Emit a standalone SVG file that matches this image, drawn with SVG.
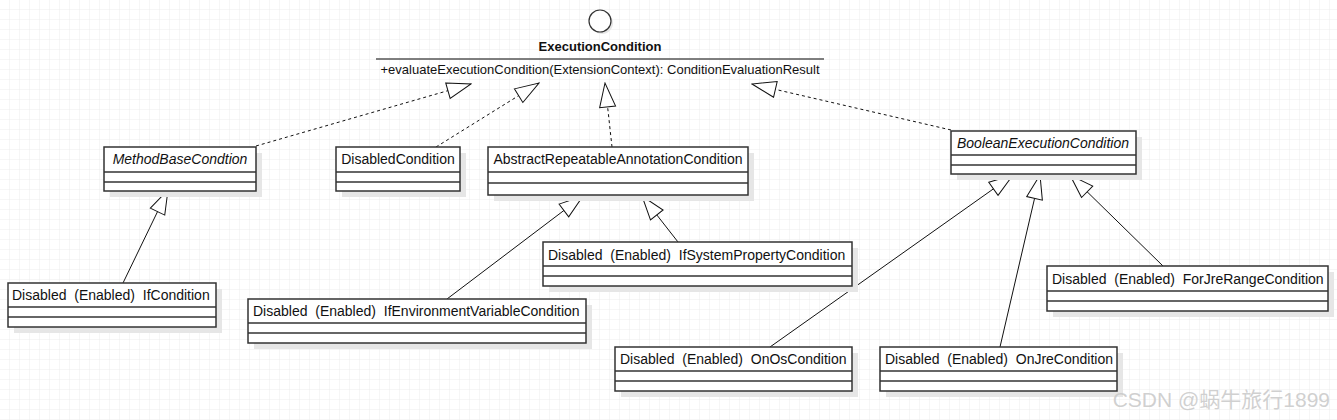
<svg xmlns="http://www.w3.org/2000/svg" width="1337" height="420" viewBox="0 0 1337 420">
<style>
.b{fill:#fff;stroke:#333;stroke-width:1.5}
.s{fill:#e6e6e6}
.d{stroke:#333;stroke-width:1.5}
.t{font-family:"Liberation Sans",Arial,sans-serif;font-size:14px;fill:#111;white-space:pre}
.h{font-size:13px}
.i{font-style:italic}
.c{stroke:#111;stroke-width:1;fill:none}
.dash{stroke-dasharray:3,3}
</style>
<defs>
<pattern id="g" width="10" height="10" patternUnits="userSpaceOnUse"><path d="M10 0V10H0" fill="none" stroke="#ececec" stroke-width="1"/></pattern>
<marker id="tri" viewBox="0 0 26 22" refX="25" refY="11" markerWidth="26" markerHeight="22" markerUnits="userSpaceOnUse" orient="auto"><path d="M1 3L25 11L1 19Z" fill="#fff" stroke="#111" stroke-width="1"/></marker>
</defs>
<rect width="1337" height="420" fill="#fff"/>
<rect width="1337" height="420" fill="url(#g)"/>
<g id="connectors">
<path class="c dash" d="M256 146L471 84" marker-end="url(#tri)"/>
<path class="c dash" d="M436 147L539 83" marker-end="url(#tri)"/>
<path class="c dash" d="M612 147L605 83" marker-end="url(#tri)"/>
<path class="c dash" d="M951 130L752 84" marker-end="url(#tri)"/>
<path class="c" d="M123 283L168 190" marker-end="url(#tri)"/>
<path class="c" d="M447 299L583 196" marker-end="url(#tri)"/>
<path class="c" d="M678 242L642 196" marker-end="url(#tri)"/>
<path class="c" d="M770 347L1013 175" marker-end="url(#tri)"/>
<path class="c" d="M1000 347L1040 175" marker-end="url(#tri)"/>
<path class="c" d="M1163 266L1070 175" marker-end="url(#tri)"/>
</g>
<g id="ExecutionCondition">
<circle cx="602" cy="23" r="11" fill="#e6e6e6"/>
<circle cx="600" cy="21" r="11" fill="#fff" stroke="#333" stroke-width="1.2"/>
<text class="t h" x="600" y="51" text-anchor="middle" font-weight="bold">ExecutionCondition</text>
<line x1="376" y1="59" x2="824" y2="59" stroke="#555" stroke-width="1.5"/>
<text class="t h" x="600" y="74" text-anchor="middle">+evaluateExecutionCondition(ExtensionContext): ConditionEvaluationResult</text>
</g>
<g id="MethodBaseCondtion">
<rect class="s" x="110" y="153" width="152" height="44"/>
<rect class="b" x="104" y="147" width="152" height="44"/>
<line class="d" x1="104" y1="172" x2="256" y2="172"/><line class="d" x1="104" y1="182" x2="256" y2="182"/>
<text class="t i" x="180" y="164" text-anchor="middle">MethodBaseCondtion</text>
</g>
<g id="DisabledCondition">
<rect class="s" x="342" y="153" width="124" height="44"/>
<rect class="b" x="336" y="147" width="124" height="44"/>
<line class="d" x1="336" y1="172" x2="460" y2="172"/><line class="d" x1="336" y1="182" x2="460" y2="182"/>
<text class="t" x="398" y="164" text-anchor="middle">DisabledCondition</text>
</g>
<g id="AbstractRepeatableAnnotationCondition">
<rect class="s" x="494" y="153" width="260" height="48"/>
<rect class="b" x="488" y="147" width="260" height="48"/>
<line class="d" x1="488" y1="172" x2="748" y2="172"/><line class="d" x1="488" y1="183" x2="748" y2="183"/>
<text class="t" x="618" y="164" text-anchor="middle">AbstractRepeatableAnnotationCondition</text>
</g>
<g id="BooleanExecutionCondition">
<rect class="s" x="957" y="137" width="185" height="43"/>
<rect class="b" x="951" y="131" width="185" height="43"/>
<line class="d" x1="951" y1="155" x2="1136" y2="155"/><line class="d" x1="951" y1="165" x2="1136" y2="165"/>
<text class="t i" x="1043" y="148" text-anchor="middle">BooleanExecutionCondition</text>
</g>
<g id="IfCondition">
<rect class="s" x="14" y="289" width="208" height="44"/>
<rect class="b" x="8" y="283" width="208" height="44"/>
<line class="d" x1="8" y1="307" x2="216" y2="307"/><line class="d" x1="8" y1="317" x2="216" y2="317"/>
<text class="t" x="12" y="300" xml:space="preserve">Disabled  (Enabled)  IfCondition</text>
</g>
<g id="IfEnvironmentVariableCondition">
<rect class="s" x="254" y="305" width="338" height="44"/>
<rect class="b" x="248" y="299" width="338" height="44"/>
<line class="d" x1="248" y1="323" x2="586" y2="323"/><line class="d" x1="248" y1="333" x2="586" y2="333"/>
<text class="t" x="253" y="316" xml:space="preserve">Disabled  (Enabled)  IfEnvironmentVariableCondition</text>
</g>
<g id="IfSystemPropertyCondition">
<rect class="s" x="549" y="248" width="309" height="44"/>
<rect class="b" x="543" y="242" width="309" height="44"/>
<line class="d" x1="543" y1="266" x2="852" y2="266"/><line class="d" x1="543" y1="276" x2="852" y2="276"/>
<text class="t" x="548" y="260" xml:space="preserve">Disabled  (Enabled)  IfSystemPropertyCondition</text>
</g>
<g id="ForJreRangeCondition">
<rect class="s" x="1053" y="272" width="281" height="45"/>
<rect class="b" x="1047" y="266" width="281" height="45"/>
<line class="d" x1="1047" y1="291" x2="1328" y2="291"/><line class="d" x1="1047" y1="301" x2="1328" y2="301"/>
<text class="t" x="1052" y="284" xml:space="preserve">Disabled  (Enabled)  ForJreRangeCondition</text>
</g>
<g id="OnOsCondition">
<rect class="s" x="621" y="353" width="237" height="44"/>
<rect class="b" x="615" y="347" width="237" height="44"/>
<line class="d" x1="615" y1="371" x2="852" y2="371"/><line class="d" x1="615" y1="381" x2="852" y2="381"/>
<text class="t" x="620" y="364" xml:space="preserve">Disabled  (Enabled)  OnOsCondition</text>
</g>
<g id="OnJreCondition">
<rect class="s" x="886" y="353" width="237" height="44"/>
<rect class="b" x="880" y="347" width="237" height="44"/>
<line class="d" x1="880" y1="371" x2="1117" y2="371"/><line class="d" x1="880" y1="381" x2="1117" y2="381"/>
<text class="t" x="885" y="364" xml:space="preserve">Disabled  (Enabled)  OnJreCondition</text>
</g>
<text x="1330" y="407" text-anchor="end" font-family="'Liberation Sans','Noto Sans CJK SC',sans-serif" font-size="21" fill="#c8c8c8" fill-opacity="0.85">CSDN @蜗牛旅行1899</text>
</svg>
